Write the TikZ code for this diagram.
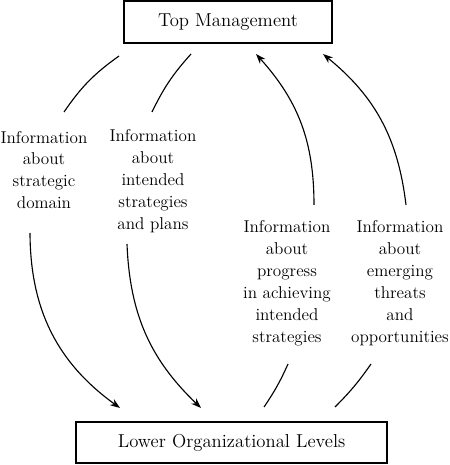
\documentclass[tikz,border=0pt]{standalone}
\usetikzlibrary{arrows.meta, positioning, calc}
\tikzstyle{level} = [rectangle, draw=black, line width=1pt, text centered, inner sep=0pt, font=\fontsize{13.3}{16}\selectfont]
\tikzstyle{info} = [align=center, inner sep=0pt, font=\fontsize{12.2}{15.6}\selectfont]
\tikzstyle{line_plain} = [line width=0.8pt]
\tikzstyle{arrow_solid} = [line width=0.8pt, -{Stealth[length=2.5mm, width=1.8mm]}]

\begin{document}
\begin{tikzpicture}
	\useasboundingbox (0,0) rectangle (11.25,11.625);

	\node (top_mgmt) at (5.7,11.075) [level, minimum width=5.2cm, minimum height=1.05cm] {Top Management};
	\node (lower_levels) at (5.79,0.5625) [level, minimum width=7.775cm, minimum height=1.025cm] {Lower Organizational Levels};

	\node (info_domain) at (1.1,7.375) [info] {Information\\about\\strategic\\domain};
	\node (info_plans) at (3.825,7.1) [info] {Information\\about\\intended\\strategies\\and plans};
	\node (info_progress) at (7.175,4.55) [info] {Information\\about\\progress\\in achieving\\intended\\strategies};
	\node (info_threats) at (10.0,4.55) [info] {Information\\about\\emerging\\threats\\and\\opportunities};

	% free ends of the connectors
	\coordinate (domain_a) at (2.975,10.225);
	\coordinate (domain_b) at (1.6,8.825);
	\coordinate (domain_c) at (0.75,5.8);
	\coordinate (domain_d) at (3.0,1.425);
	\coordinate (plans_a) at (4.775,10.275);
	\coordinate (plans_b) at (3.8,8.825);
	\coordinate (plans_c) at (3.175,5.525);
	\coordinate (plans_d) at (5.025,1.425);
	\coordinate (progress_a) at (6.6,1.45);
	\coordinate (progress_b) at (7.2,2.525);
	\coordinate (progress_c) at (7.85,6.5);
	\coordinate (progress_d) at (6.4,10.275);
	\coordinate (threats_a) at (8.375,1.45);
	\coordinate (threats_b) at (9.275,2.525);
	\coordinate (threats_c) at (10.15,6.5);
	\coordinate (threats_d) at (8.075,10.275);

	% downward flows
	\draw [line_plain] (domain_a) to[bend right=10] (domain_b);
	\draw [arrow_solid] (domain_c) to[bend right=27] (domain_d);
	\draw [line_plain] (plans_a) to[bend right=8] (plans_b);
	\draw [arrow_solid] (plans_c) to[bend right=22] (plans_d);
	% upward flows
	\draw [line_plain] (progress_a) to[bend right=5] (progress_b);
	\draw [arrow_solid] (progress_c) to[bend right=21] (progress_d);
	\draw [line_plain] (threats_a) to[bend right=5] (threats_b);
	\draw [arrow_solid] (threats_c) to[bend right=22] (threats_d);

\end{tikzpicture}
\end{document}
